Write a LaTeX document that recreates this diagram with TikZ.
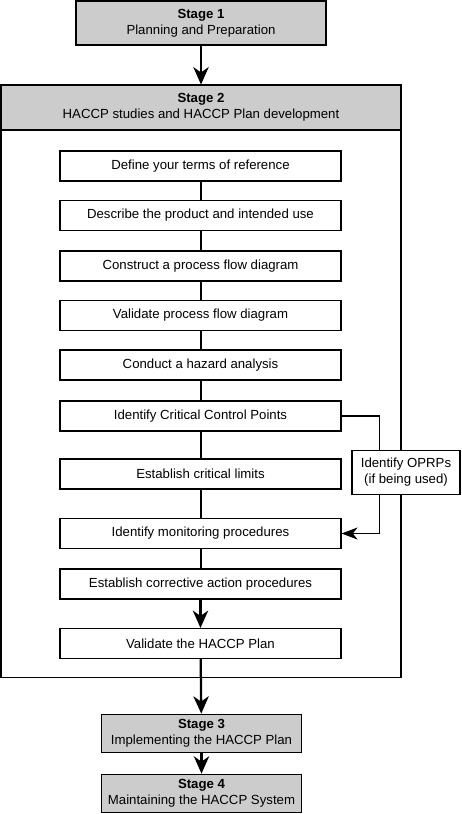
\documentclass[tikz,border=0pt]{standalone}
\usepackage{fontspec}
\setmainfont{Liberation Sans}
\usepackage{tikz}
\usetikzlibrary{arrows.meta}

\tikzset{
  stagebox/.style={draw, thick, fill=gray!40, align=center, inner sep=1pt, font=\fontsize{9.9}{12}\selectfont},
  stepbox/.style={draw, thick, fill=white, minimum width=210.75pt, minimum height=22.5pt, font=\fontsize{9.9}{12}\selectfont},
  link/.style={line width=1.5pt},
  flow/.style={line width=1.7pt, -{Stealth[length=13pt, width=11.5pt, inset=4pt]}}
}

\begin{document}
\begin{tikzpicture}[x=0.75pt, y=-0.75pt]
  \useasboundingbox (0,0) rectangle (461,814);

  % stage boxes
  \node[stagebox, minimum width=187.5pt, minimum height=33pt] (stage1) at (201,23) {\textbf{Stage 1}\\Planning and Preparation};
  \node[draw, thick, minimum width=300pt, minimum height=444.5pt] (frame) at (201,381.5) {};
  \node[stagebox, minimum width=300pt, minimum height=33.75pt] (stage2) at (201,107.5) {\textbf{Stage 2}\\HACCP studies and HACCP Plan development};
  \node[stagebox, minimum width=150pt, minimum height=29pt] (stage3) at (201.5,733.5) {\textbf{Stage 3}\\Implementing the HACCP Plan};
  \node[stagebox, minimum width=150pt, minimum height=29pt] (stage4) at (201.5,793.5) {\textbf{Stage 4}\\Maintaining the HACCP System};

  % HACCP steps
  \node[stepbox] (terms) at (200.5,166) {Define your terms of reference};
  \node[stepbox] (product) at (200.5,215.5) {Describe the product and intended use};
  \node[stepbox] (construct) at (200.5,266) {Construct a process flow diagram};
  \node[stepbox] (validflow) at (200.5,315.5) {Validate process flow diagram};
  \node[stepbox] (hazard) at (200.5,365) {Conduct a hazard analysis};
  \node[stepbox] (ccp) at (200.5,416) {Identify Critical Control Points};
  \node[stepbox] (limits) at (200.5,474) {Establish critical limits};
  \node[stepbox] (monitor) at (200.5,533.5) {Identify monitoring procedures};
  \node[stepbox] (corrective) at (200.5,584) {Establish corrective action procedures};
  \node[stepbox] (validplan) at (200.5,643.5) {Validate the HACCP Plan};

  \node[draw, thick, fill=white, align=center, inner sep=1pt, minimum width=81pt, minimum height=33pt, font=\fontsize{9.9}{12}\selectfont] (oprp) at (406,472.5) {Identify OPRPs\\(if being used)};

  % connectors
  \draw[flow] (stage1) -- (stage2);
  \draw[link] (terms) -- (product);
  \draw[link] (product) -- (construct);
  \draw[link] (construct) -- (validflow);
  \draw[link] (validflow) -- (hazard);
  \draw[link] (hazard) -- (ccp);
  \draw[link] (ccp) -- (limits);
  \draw[link] (limits) -- (monitor);
  \draw[link] (monitor) -- (corrective);
  \draw[flow] (corrective) -- (validplan);
  \draw[flow] (validplan) -- (stage3);
  \draw[flow] (stage3) -- (stage4);

  \draw[thick] (ccp.east) -| (379.5,0 |- oprp.north);
  \draw[thick, -{Stealth[length=12pt, width=9pt, inset=3.5pt]}] (379.5,0 |- oprp.south) |- (monitor.east);
\end{tikzpicture}
\end{document}
